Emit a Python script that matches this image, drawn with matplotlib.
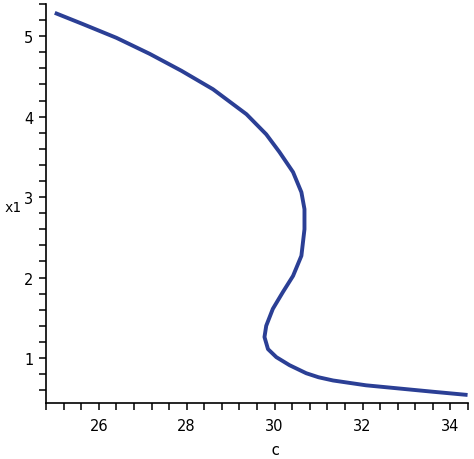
import matplotlib
matplotlib.use("Agg")
import matplotlib.pyplot as plt
from matplotlib.ticker import MultipleLocator, FixedLocator

# Data
c_vals = [25.00, 25.64, 26.40, 27.16, 27.88, 28.60, 29.36, 29.81, 30.11, 30.42,
          30.61, 30.68, 30.68, 30.61, 30.42, 30.19, 29.96, 29.81, 29.77, 29.85,
          30.04, 30.34, 30.72, 31.00, 31.33, 32.08, 32.84, 33.60, 34.39]
x1_vals = [5.29, 5.15, 4.98, 4.78, 4.57, 4.34, 4.03, 3.78, 3.56, 3.31,
           3.06, 2.85, 2.60, 2.27, 2.02, 1.82, 1.61, 1.40, 1.26, 1.11,
           1.01, 0.91, 0.81, 0.76, 0.72, 0.66, 0.62, 0.58, 0.54]
x_major = [26, 28, 30, 32, 34]
y_major = [1, 2, 3, 4, 5]

fig = plt.figure(figsize=(4.74, 4.60), dpi=100)
ax = fig.add_axes([46/474, 56/460, (468-46)/474, (404-5)/460])

ax.plot(c_vals, x1_vals, color="#2b3f95", lw=2.8, solid_capstyle="butt",
        solid_joinstyle="round")

ax.set_xlim(24.8, 34.4)
ax.set_ylim(0.44, 5.40)

for s in ["top", "right"]:
    ax.spines[s].set_visible(False)
for s in ["left", "bottom"]:
    ax.spines[s].set_linewidth(1.2)
    ax.spines[s].set_color("black")

ax.xaxis.set_major_locator(FixedLocator(x_major))
ax.yaxis.set_major_locator(FixedLocator(y_major))
ax.xaxis.set_minor_locator(MultipleLocator(0.4))
ax.yaxis.set_minor_locator(MultipleLocator(0.2))
ax.tick_params(which="both", direction="out", length=5, width=1.1, color="black")
ax.tick_params(axis="x", which="major", labelsize=10.5, pad=6)
ax.tick_params(axis="y", which="major", labelsize=10.5, pad=4)
ax.set_xticklabels([str(v) for v in x_major])
ax.set_yticklabels([str(v) for v in y_major])

ax.set_xlabel("c", fontsize=11, family="DejaVu Sans Mono")
ax.xaxis.set_label_coords((275-46)/(468-46), -(451-404)/(404-5), transform=ax.transAxes)
ax.set_ylabel("x1", fontsize=10, family="DejaVu Sans Mono", rotation=0)
ax.yaxis.set_label_coords(-(46-13)/(468-46), (404-208)/(404-5), transform=ax.transAxes)
ax.xaxis.label.set_va("center")
ax.yaxis.label.set_va("center")
ax.yaxis.label.set_ha("center")

fig.savefig("out.png", dpi=100)
